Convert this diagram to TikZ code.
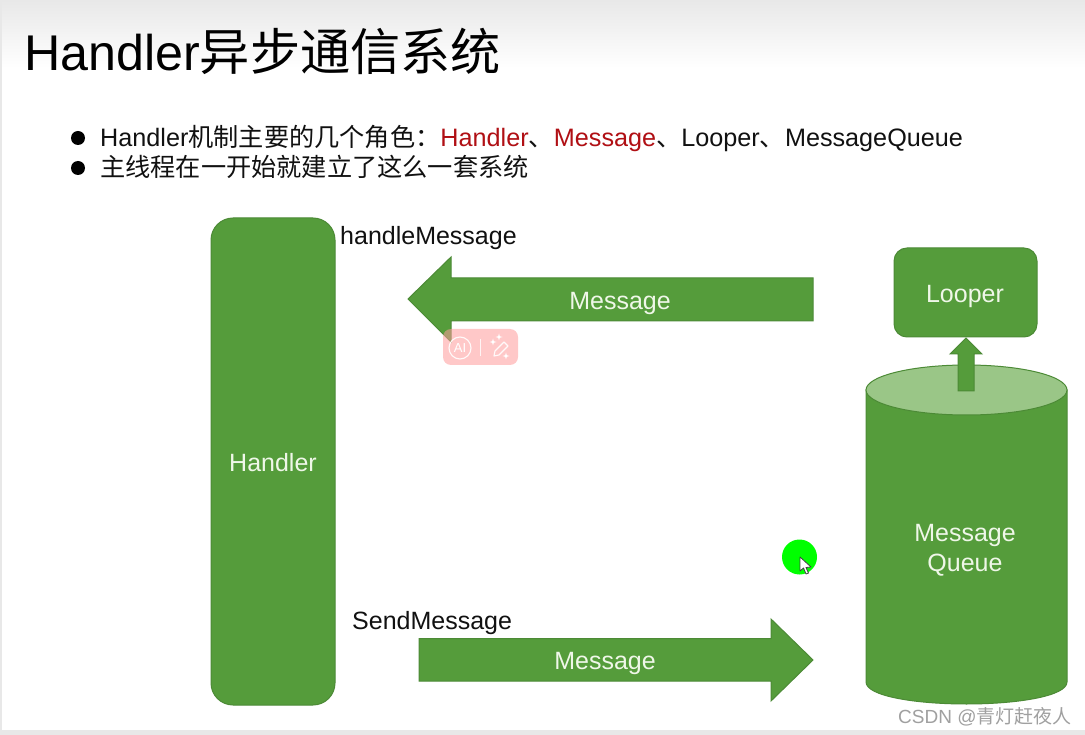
\documentclass[tikz,border=0pt]{standalone}
\usepackage{fontspec}
\setmainfont{Liberation Sans}
\newfontfamily\cjk{Noto Sans CJK SC}
\definecolor{gfill}{HTML}{559C3B}
\definecolor{gedge}{HTML}{4C8A36}
\definecolor{gtop}{HTML}{9AC687}
\definecolor{gtxt}{HTML}{EFF7E8}
\definecolor{redtxt}{HTML}{B00F14}
\definecolor{txt}{HTML}{111111}
\definecolor{band}{HTML}{E8E8E8}
\definecolor{wm}{HTML}{A0A0A0}
\definecolor{badge}{HTML}{FF9C9C}
\tikzset{
  x=1pt,y=-1pt,
  shapefill/.style={fill=gfill,draw=gedge,line width=1pt},
  greentext/.style={text=gtxt,font=\fontsize{25}{30}\selectfont,align=center,inner sep=0pt},
  plaintext/.style={text=txt,font=\fontsize{25}{30}\selectfont,anchor=base west,inner sep=0pt},
  bulletdot/.style={circle,fill=black,inner sep=0pt,minimum size=14pt},
  badgeicon/.style={draw=white,line width=1.1pt,opacity=.9},
  sparkle/.pic={\fill[white] (0,-3.5) -- (.8,-.8) -- (3.5,0) -- (.8,.8) -- (0,3.5) -- (-.8,.8) -- (-3.5,0) -- (-.8,-.8) -- cycle;},
}
\begin{document}
\begin{tikzpicture}
\useasboundingbox (0,0) rectangle (1085,735);
\fill[white] (0,0) rectangle (1085,735);
\shade[top color=band,bottom color=white,shading angle=0] (0,0) rectangle (1085,68);
\fill[band] (0,730) rectangle (1085,735);
\fill[band] (0,0) rectangle (1.5,735);

% title and bullets
\node[plaintext,text=black,font=\fontsize{50.2}{60}\selectfont] (title) at (24,71) {Handler{\cjk 异步通信系统}};
\node[bulletdot] (b1) at (78,138) {};
\node[bulletdot] (b2) at (78,168) {};
\node[plaintext,font=\fontsize{25.2}{30}\selectfont] (l1) at (100,147) {Handler{\cjk 机制主要的几个角色：}\textcolor{redtxt}{Handler}{\cjk 、}\textcolor{redtxt}{Message}{\cjk 、}Looper{\cjk 、}MessageQueue};
\node[plaintext,font=\fontsize{25.2}{30}\selectfont] (l2) at (100,177) {\cjk 主线程在一开始就建立了这么一套系统};

% Handler
\draw[shapefill,rounded corners=22pt] (211,218) rectangle (335,705);
\node[greentext] (handler) at (273,463) {Handler};
\node[plaintext] (hm) at (340,245) {handleMessage};
\node[plaintext] (sm) at (352,629) {SendMessage};

% arrows
\draw[shapefill] (813,278) -- (451,278) -- (451,257) -- (408,299) -- (451,342) -- (451,321) -- (813,321) -- cycle;
\node[greentext] (m1) at (620,303) {Message};
\draw[shapefill] (419,638.5) -- (771,638.5) -- (771,619) -- (813,660) -- (771,701) -- (771,681) -- (419,681) -- cycle;
\node[greentext] (m2) at (605,663) {Message};

% Looper
\draw[shapefill,rounded corners=13pt] (894,248) rectangle (1037,337);
\node[greentext] (looper) at (965,296) {Looper};

% Queue
\draw[shapefill] (866,390) -- (866,682) .. controls (866,696) and (915,704) .. (966.5,704) .. controls (1018,704) and (1067,696) .. (1067,682) -- (1067,390) -- cycle;
\draw[fill=gtop,draw=gedge,line width=1pt] (966.5,390) ellipse [x radius=100.5,y radius=25];
\node[greentext] (queue) at (965,550) {Message\\[0pt]Queue};
\draw[shapefill] (958,391) -- (958,354) -- (950,354) -- (966,338) -- (982,354) -- (974,354) -- (974,391) -- cycle;

% pointer
\fill[green] (799.5,557) circle [radius=17.5];
\draw[fill=white,draw=black!75,line width=.8pt,line join=round] (800,557) -- (800,571) -- (803.5,568) -- (806,574) -- (808.5,573) -- (806,567.5) -- (811,567) -- cycle;

% badge
\fill[badge,opacity=.55,rounded corners=8pt] (443,329) rectangle (518,365);
\draw[badgeicon] (460,348) circle [radius=11];
\node[text=white,font=\fontsize{13}{15}\selectfont,inner sep=0pt] (ai) at (460,348) {AI};
\draw[white,line width=.8pt,opacity=.8] (480.5,339) -- (480.5,356);
\draw[badgeicon,line join=round] (494,356) -- (495,351) -- (504,342) -- (508,346) -- (499,355) -- cycle;
\pic at (493,342) {sparkle};
\pic at (506,356) {sparkle};
\pic at (499,337) {sparkle};

% watermark
\node[plaintext,text=wm,font=\fontsize{19}{23}\selectfont] (wm) at (898,723) {CSDN @{\cjk 青灯赶夜人}};
\end{tikzpicture}
\end{document}
